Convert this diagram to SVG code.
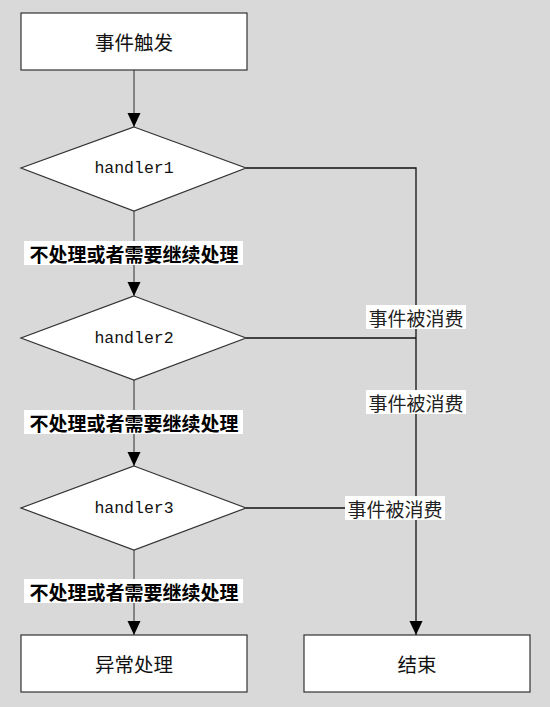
<svg xmlns="http://www.w3.org/2000/svg" width="550" height="707" viewBox="0 0 550 707">
<defs>
<marker id="arr" markerWidth="14" markerHeight="20" refX="14" refY="10" orient="auto" markerUnits="userSpaceOnUse">
<path d="M0,3.5 L14,10 L0,16.5 Z" fill="#000"/>
</marker>
<style>
.n{fill:#fff;stroke:#333;stroke-width:1.2}
.t{font-family:"Noto Sans CJK SC","Liberation Serif",serif;font-size:19.5px;fill:#111;text-anchor:middle;dominant-baseline:central}
.h{font-family:"Liberation Mono",monospace;font-size:16.5px;fill:#111;text-anchor:middle;dominant-baseline:central}
.lb{font-family:"Noto Sans CJK SC",sans-serif;font-size:19px;font-weight:bold;fill:#000;text-anchor:middle;dominant-baseline:central}
.lbl{font-family:"Noto Sans CJK SC",sans-serif;font-size:19px;fill:#222;text-anchor:middle;dominant-baseline:central}
.bg{fill:#fff}
.c{fill:none;stroke-width:1.3}
</style>
</defs>
<rect width="550" height="707" fill="#d9d9d9"/>
<g id="connectors">
<path class="c" stroke="#555" d="M134,70 V127" marker-end="url(#arr)"/>
<path class="c" stroke="#555" d="M134,211 V296" marker-end="url(#arr)"/>
<path class="c" stroke="#555" d="M134,380 V466" marker-end="url(#arr)"/>
<path class="c" stroke="#555" d="M134,550 V635" marker-end="url(#arr)"/>
<path class="c" stroke="#111" d="M246,168 H416 V635" marker-end="url(#arr)"/>
<path class="c" stroke="#111" d="M246,338 H416"/>
<path class="c" stroke="#111" d="M246,508 H345"/>
<rect class="bg" x="24" y="241" width="219" height="24"/>
<text class="lb" x="134" y="253">不处理或者需要继续处理</text>
<rect class="bg" x="24" y="410" width="219" height="24"/>
<text class="lb" x="134" y="422">不处理或者需要继续处理</text>
<rect class="bg" x="24" y="579" width="219" height="24"/>
<text class="lb" x="134" y="591">不处理或者需要继续处理</text>
<rect class="bg" x="366" y="305" width="100" height="24"/>
<text class="lbl" x="416" y="317">事件被消费</text>
<rect class="bg" x="366" y="390" width="100" height="24"/>
<text class="lbl" x="416" y="402">事件被消费</text>
<rect class="bg" x="345" y="496" width="100" height="24"/>
<text class="lbl" x="395" y="508">事件被消费</text>
</g>
<g id="start">
<rect class="n" x="21" y="13" width="226" height="57"/>
<text class="t" x="134" y="41">事件触发</text>
</g>
<g id="handler1">
<polygon class="n" points="134,127 246,168 134,211 21,168"/>
<text class="h" x="134" y="168">handler1</text>
</g>
<g id="handler2">
<polygon class="n" points="134,296 246,338 134,380 21,338"/>
<text class="h" x="134" y="338">handler2</text>
</g>
<g id="handler3">
<polygon class="n" points="134,466 246,508 134,550 21,508"/>
<text class="h" x="134" y="508">handler3</text>
</g>
<g id="exception">
<rect class="n" x="21" y="635" width="226" height="57"/>
<text class="t" x="134" y="663">异常处理</text>
</g>
<g id="end">
<rect class="n" x="304" y="635" width="226" height="57"/>
<text class="t" x="417" y="663">结束</text>
</g>
</svg>
